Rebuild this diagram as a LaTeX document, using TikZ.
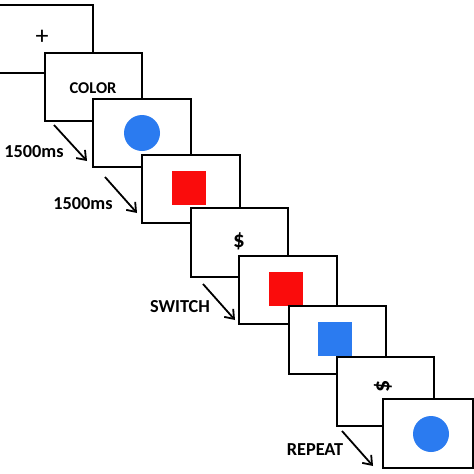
\documentclass[tikz,border=0pt]{standalone}
\usepackage{fontspec}
\setmainfont{Carlito}
\usetikzlibrary{arrows.meta}
\definecolor{cblue}{RGB}{43,123,240}
\definecolor{cred}{RGB}{250,12,12}
\tikzset{
  screen/.style={draw=black, fill=white, line width=2pt, inner sep=0pt, rectangle},
  lbl/.style={font=\bfseries\fontsize{18.3}{19}\selectfont, inner sep=0pt},
  sym/.style={font=\bfseries\fontsize{23}{23}\selectfont, inner sep=0pt},
  dot/.style={circle, fill=cblue, minimum size=36pt, inner sep=0pt},
  sq/.style={rectangle, minimum size=34pt, inner sep=0pt},
  tarrow/.style={line width=1.8pt, -{Straight Barb[length=8pt,width=12pt,line width=1.8pt]}}
}
\newcommand{\screenbox}[5]{%
  \node[screen, minimum width={((#4)-(#2))*1pt}, minimum height={((#5)-(#3))*1pt}] (#1) at ({((#2)+(#4))/2},{((#3)+(#5))/2}) {};}
\begin{document}
\begin{tikzpicture}[x=1pt,y=-1pt]
\useasboundingbox (0,0) rectangle (474,474);
\clip (0,0) rectangle (474,474);
\screenbox{s1}{-6}{5}{93}{73}
\node[font=\fontsize{26}{26}\selectfont, inner sep=0pt] (plus) at (42,37) {+};
\screenbox{s2}{45}{53}{142}{121}
\node[font=\bfseries\fontsize{16.5}{17}\selectfont, inner sep=0pt] (color) at (93,88) {COLOR};
\screenbox{s3}{93}{99}{191}{167}
\node[dot] (c1) at (142,133) {};
\screenbox{s4}{142}{155}{240}{223}
\node[sq, fill=cred] (r1) at (189,188) {};
\screenbox{s5}{191}{208}{288}{277}
\node[sym] (d1) at (239,241) {\$};
\screenbox{s6}{239}{256}{337}{324}
\node[sq, fill=cred] (r2) at (286,289) {};
\screenbox{s7}{289}{306}{386}{374}
\node[sq, fill=cblue] (b1) at (335,339) {};
\screenbox{s8}{337}{357}{434}{426}
\node[sym, font=\bfseries\fontsize{24}{24}\selectfont, rotate=90] (d2) at (383,386) {\$};
\screenbox{s9}{383}{399}{473}{468}
\node[dot] (c2) at (431,434) {};
% arrows
\coordinate (a1s) at (54,125); \coordinate (a1e) at (87,161);
\coordinate (a2s) at (105,177); \coordinate (a2e) at (137,213);
\coordinate (a3s) at (203,284); \coordinate (a3e) at (235,320);
\coordinate (a4s) at (342,431); \coordinate (a4e) at (373,466);
\draw[tarrow] (a1s) -- (a1e);
\draw[tarrow] (a2s) -- (a2e);
\draw[tarrow] (a3s) -- (a3e);
\draw[tarrow] (a4s) -- (a4e);
\node[lbl] (l1) at (34,152) {1500ms};
\node[lbl] (l2) at (83,204) {1500ms};
\node[lbl] (l3) at (180,307) {SWITCH};
\node[lbl] (l4) at (315,450) {REPEAT};
\end{tikzpicture}
\end{document}
